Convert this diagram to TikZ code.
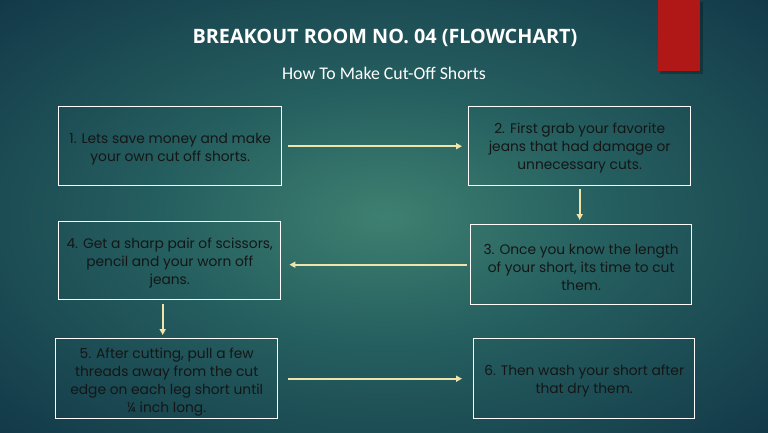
\documentclass[tikz,border=0pt]{standalone}
\usepackage{fontspec}
\setmainfont{Poppins}
\newfontfamily\titlefont{Open Sans}
\newfontfamily\subfont{Carlito}
\usetikzlibrary{arrows.meta,calc}
\definecolor{bgin}{RGB}{62,128,112}
\definecolor{bgmid}{RGB}{38,96,96}
\definecolor{bgout}{RGB}{18,56,72}
\definecolor{arrowc}{RGB}{240,228,170}
\definecolor{txt}{RGB}{20,22,22}
\definecolor{redbar}{RGB}{176,24,24}
\pgfdeclareradialshading{bgshade}{\pgfpoint{0bp}{0bp}}{color(0bp)=(bgin); color(14bp)=(bgmid); color(36bp)=(bgout); color(50bp)=(bgout)}
\tikzset{
  stepbox/.style={draw=white, line width=1.4pt, minimum width=#1, minimum height=79pt, inner sep=0pt, anchor=north west},
  steptext/.style={inner sep=0pt, align=center, text=txt, font=\fontsize{13.8}{18}\selectfont},
  flow/.style={draw=arrowc, line width=1.6pt, -{Triangle[length=6pt,width=6pt]}}
}
\begin{document}
\begin{tikzpicture}[x=1pt,y=-1pt]
\useasboundingbox (0,0) rectangle (768,433);
\shade[shading=bgshade] (0,0) rectangle (768,433);
\fill[black,opacity=0.25] (660,2) rectangle (703,74);
\fill[redbar] (658,0) rectangle (700,71);
\node[text=white, font=\titlefont\bfseries\fontsize{19.8}{22}\selectfont] (title) at (385,38) {BREAKOUT ROOM NO. 04 (FLOWCHART)};
\node[text=white, font=\subfont\fontsize{17.8}{20}\selectfont] (sub) at (384,73) {How To Make Cut-Off Shorts};
\node[stepbox=223pt] (b1) at (58,106) {};
\node[stepbox=222pt] (b2) at (468,106) {};
\node[stepbox=221pt, minimum height=80pt] (b3) at (470,224) {};
\node[stepbox=222pt, minimum height=78pt] (b4) at (58,221) {};
\node[stepbox=222pt, minimum height=80pt] (b5) at (55,338) {};
\node[stepbox=221pt, minimum height=80pt] (b6) at (473,338) {};
\node[steptext] (t1) at ($(b1.center)+(0,3)$) {1. Lets save money and make\\your own cut off shorts.};
\node[steptext] (t2) at ($(b2.center)+(0,2)$) {2. First grab your favorite\\jeans that had damage or\\unnecessary cuts.};
\node[steptext] (t3) at ($(b3.center)+(0,2.5)$) {3. Once you know the length\\of your short, its time to cut\\them.};
\node[steptext] (t4) at ($(b4.center)+(0,2)$) {4. Get a sharp pair of scissors,\\pencil and your worn off\\jeans.};
\node[steptext] (t5) at ($(b5.center)+(0,3.5)$) {5. After cutting, pull a few\\threads away from the cut\\edge on each leg short until\\¼ inch long.};
\node[steptext] (t6) at ($(b6.center)+(0,2.5)$) {6. Then wash your short after\\that dry them.};
\coordinate (a1s) at ($(b1.east)+(6pt,0)$);
\coordinate (a1e) at ($(b2.west)+(-6pt,0)$);
\coordinate (a2s) at ($(b2.south)+(0,3)$);
\coordinate (a2e) at ($(b3.north)+(0,-4)$);
\coordinate (a3s) at ($(b3.west)+(-3pt,0)$);
\coordinate (a3e) at ($(b4.east)+(8pt,0)$);
\coordinate (a4s) at ($(b4.south)+(-7,4)$);
\coordinate (a4e) at ($(b5.north)+(0,-3)$);
\coordinate (a5s) at ($(b5.east)+(10pt,0)$);
\coordinate (a5e) at ($(b6.west)+(-11pt,0)$);
\draw[flow] (a1s) -- (a1e |- a1s);
\draw[flow] (a2s) -- (a2s |- a2e);
\draw[flow] (a3s) -- (a3e |- a3s);
\draw[flow] (a4s) -- (a4s |- a4e);
\draw[flow] (a5s) -- (a5e |- a5s);
\end{tikzpicture}
\end{document}
